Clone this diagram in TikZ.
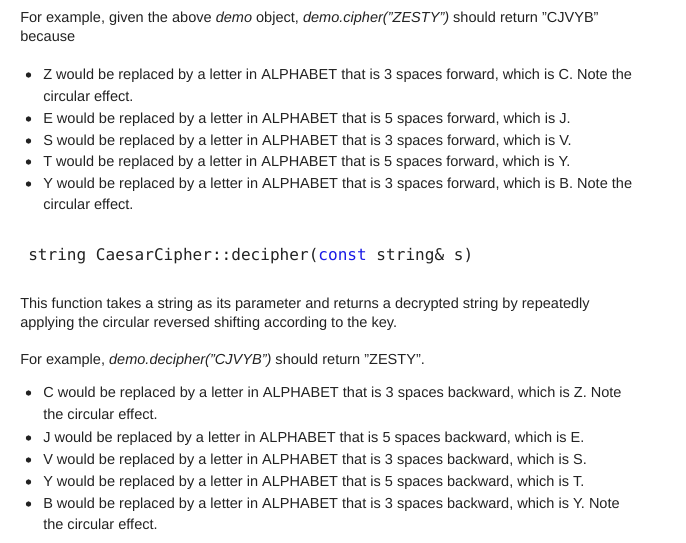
\documentclass[tikz,border=0pt]{standalone}
\usepackage{fontspec}
\setmainfont{Liberation Sans}
\newfontfamily\codefont{DejaVu Sans Mono}
\definecolor{txt}{HTML}{222222}
\definecolor{kw}{HTML}{1A1AE6}
\newcommand{\dq}{\symbol{34}}
\begin{document}
\begin{tikzpicture}[x=0.75pt,y=-0.75pt,
  t/.style={anchor=base west,inner sep=0pt,font=\fontsize{10.9}{13}\selectfont,text=txt},
  bul/.style={circle,fill=txt,inner sep=0pt,minimum size=4pt}]
\useasboundingbox (0,0) rectangle (686,543);
\node[t] (p1) at (20,22) {For example, given the above \textit{demo} object, \textit{demo.cipher(\dq ZESTY\dq)} should return \dq CJVYB\dq};
\node[t] (p2) at (20,41) {because};
\foreach \y/\s [count=\i] in {
 79/{Z would be replaced by a letter in ALPHABET that is 3 spaces forward, which is C. Note the},
 101/{circular effect.},
 123/{E would be replaced by a letter in ALPHABET that is 5 spaces forward, which is J.},
 145/{S would be replaced by a letter in ALPHABET that is 3 spaces forward, which is V.},
 166/{T would be replaced by a letter in ALPHABET that is 5 spaces forward, which is Y.},
 188/{Y would be replaced by a letter in ALPHABET that is 3 spaces forward, which is B. Note the},
 209/{circular effect.}}
 {\node[t] (a\i) at (43,\y) {\s};}
\foreach \y [count=\i] in {79,123,145,166,188} {\node[bul] (ba\i) at (28.5,\y-4) {};}
\node[anchor=base west,inner sep=0pt,text=txt,font=\codefont\fontsize{12.05}{15}\selectfont] (code) at (28,260)
 {string CaesarCipher::decipher(\textcolor{kw}{const} string\& s)};
\node[t] (q1) at (20,308) {This function takes a string as its parameter and returns a decrypted string by repeatedly};
\node[t] (q2) at (20,327) {applying the circular reversed shifting according to the key.};
\node[t] (q3) at (20,364) {For example, \textit{demo.decipher(\dq CJVYB\dq)} should return \dq ZESTY\dq.};
\foreach \y/\s [count=\i] in {
 397/{C would be replaced by a letter in ALPHABET that is 3 spaces backward, which is Z. Note},
 419/{the circular effect.},
 442/{J would be replaced by a letter in ALPHABET that is 5 spaces backward, which is E.},
 464/{V would be replaced by a letter in ALPHABET that is 3 spaces backward, which is S.},
 486/{Y would be replaced by a letter in ALPHABET that is 5 spaces backward, which is T.},
 508/{B would be replaced by a letter in ALPHABET that is 3 spaces backward, which is Y. Note},
 529/{the circular effect.}}
 {\node[t] (b\i) at (43,\y) {\s};}
\foreach \y [count=\i] in {397,442,464,486,508} {\node[bul] (bb\i) at (28.5,\y-4) {};}
\end{tikzpicture}
\end{document}
